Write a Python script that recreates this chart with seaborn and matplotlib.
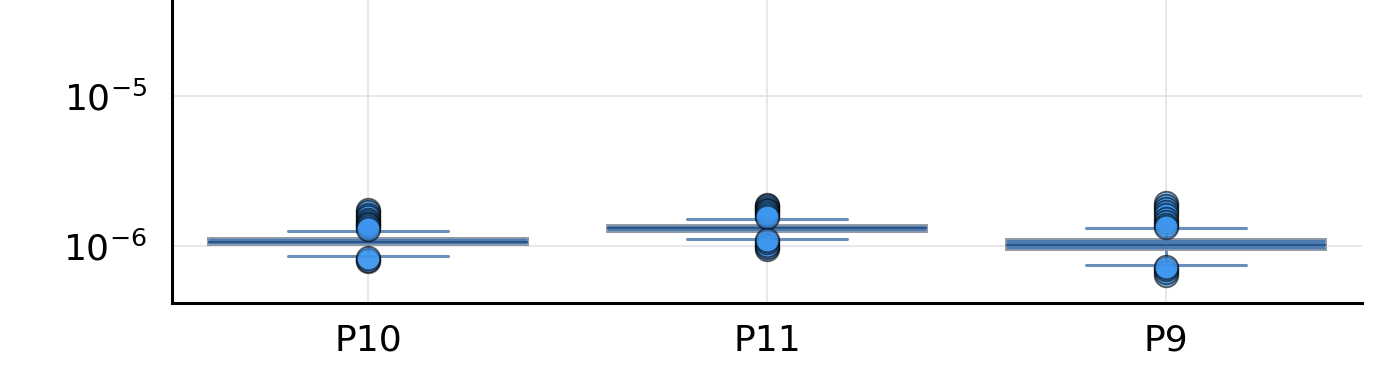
import numpy as np
import pandas as pd
import matplotlib
matplotlib.use("Agg")
import matplotlib.pyplot as plt
import seaborn as sns

# ---- data (values in units of 1e-6) ----
categories = ["P10", "P11", "P9"]
whisker_lo = [0.858, 1.114, 0.75]
q1_vals = [1.015, 1.245, 0.94]
median_vals = [1.06, 1.318, 1.02]
q3_vals = [1.13, 1.38, 1.11]
whisker_hi = [1.259, 1.51, 1.31]
# outliers, listed from farthest to nearest the box
outliers_hi = {
    "P10": [1.74, 1.68, 1.62, 1.56, 1.50, 1.45, 1.41, 1.37, 1.33, 1.30],
    "P11": [1.88, 1.85, 1.80, 1.75, 1.70, 1.65, 1.60, 1.56],
    "P9": [1.93, 1.85, 1.76, 1.68, 1.60, 1.52, 1.45, 1.38, 1.33],
}
outliers_lo = {
    "P10": [0.80, 0.81, 0.83],
    "P11": [0.95, 0.98, 1.02, 1.06, 1.10],
    "P9": [0.64, 0.67, 0.70, 0.73],
}
scale = 1e-6

# box table: five-number summary per category
box_rows = []
for i, c in enumerate(categories):
    for v in (whisker_lo[i], q1_vals[i], median_vals[i], q3_vals[i], whisker_hi[i]):
        box_rows.append({"cat": c, "val": v * scale})
box_df = pd.DataFrame(box_rows)

out_rows = []
for c in categories:
    for v in outliers_hi[c]:
        out_rows.append({"cat": c, "val": v * scale})
    for v in outliers_lo[c]:
        out_rows.append({"cat": c, "val": v * scale})
out_df = pd.DataFrame(out_rows)

sns.set_style("white")
plt.rcParams["font.family"] = ["DejaVu Sans"]

W, H = 1380, 368
fig = plt.figure(figsize=(W / 100, H / 100), dpi=100)
ax = fig.add_axes([172 / W, 1 - 303 / H, 1190 / W, 303 / H])
ax.set_yscale("log")

sns.boxplot(
    data=box_df, x="cat", y="val", order=categories, ax=ax,
    whis=(0, 100), width=0.8, showfliers=False,
    boxprops=dict(facecolor="#4a7bb3", edgecolor="#8e99a6", linewidth=1.4),
    medianprops=dict(color="#2d5584", linewidth=1.4),
    whiskerprops=dict(color="#6b8fba", linewidth=2.2),
    capprops=dict(color="#6b8fba", linewidth=2.2),
    zorder=3,
)

sns.stripplot(
    data=out_df, x="cat", y="val", order=categories, ax=ax,
    jitter=False, size=17, color="#3d96f0", alpha=0.6,
    edgecolor="black", linewidth=1.3, zorder=4,
)

ax.set_ylim(10 ** -6.38, 10 ** -4.36)
ax.set_xlim(-0.491, 2.491)
ax.set_yticks([1e-6, 1e-5])
ax.yaxis.set_minor_locator(matplotlib.ticker.NullLocator())
ax.set_xlabel("")
ax.set_ylabel("")

ax.grid(True, color="#e4e4e4", linewidth=1.2, zorder=0)
ax.set_axisbelow(True)
for s in ("top", "right"):
    ax.spines[s].set_visible(False)
for s in ("left", "bottom"):
    ax.spines[s].set_color("black")
    ax.spines[s].set_linewidth(2.2)

ax.tick_params(axis="both", direction="in", length=8.5, width=2.2,
               colors="black", labelsize=26)
ax.tick_params(axis="y", pad=18)
ax.tick_params(axis="x", pad=15)

fig.savefig("out.png", dpi=100)
